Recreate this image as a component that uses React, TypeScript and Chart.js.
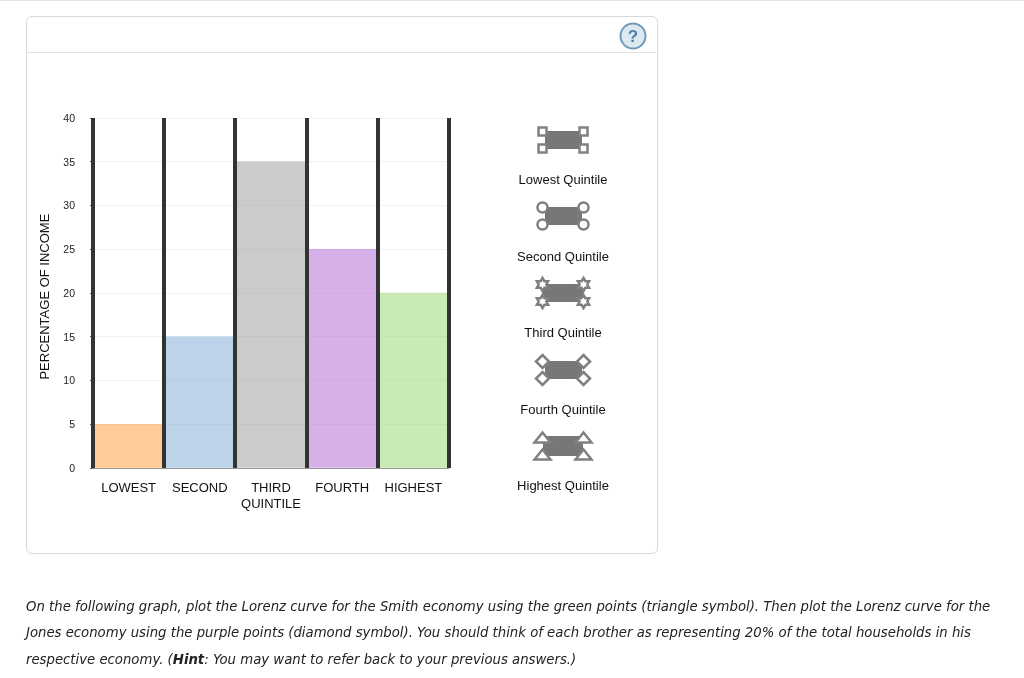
import React, { useEffect, useRef } from "react";
import { Chart, registerables } from "chart.js";

Chart.register(...registerables);

const categories = ["LOWEST", "SECOND", "THIRD", "FOURTH", "HIGHEST"];
const incomeShare = [5, 15, 35, 25, 20];
const barColors = [
  "rgba(255,153,51,0.5)",
  "rgba(122,167,211,0.5)",
  "rgba(151,151,151,0.5)",
  "rgba(173,99,211,0.5)",
  "rgba(147,213,107,0.5)",
];
const yMax = 40;
const yStep = 5;
const xTitle = "QUINTILE";
const yTitle = "PERCENTAGE OF INCOME";
const paletteLabels = ["Lowest Quintile", "Second Quintile", "Third Quintile", "Fourth Quintile", "Highest Quintile"];
const paletteShapes = ["square", "circle", "star", "diamond", "triangle"];

const SANS = '"Liberation Sans", Arial, sans-serif';
const GREY = "#808080";

function starPoints(cx: number, cy: number, R: number, r: number) {
  const pts: string[] = [];
  for (let i = 0; i < 12; i++) {
    const a = (Math.PI / 6) * i - Math.PI / 2;
    const rad = i % 2 === 0 ? R : r;
    pts.push(`${(cx + rad * Math.cos(a)).toFixed(2)},${(cy + rad * Math.sin(a)).toFixed(2)}`);
  }
  return pts.join(" ");
}

function Marker({ shape, x, y }: { shape: string; x: number; y: number }) {
  const common = { fill: "#fff", stroke: GREY, strokeWidth: 2.5 };
  if (shape === "square") return <rect x={x - 4} y={y - 4} width={8} height={8} {...common} />;
  if (shape === "circle") return <circle cx={x} cy={y} r={5} {...common} />;
  if (shape === "star") return <polygon points={starPoints(x, y, 6.5, 3.8)} {...common} />;
  if (shape === "diamond")
    return <polygon points={`${x},${y - 6.5} ${x + 6.5},${y} ${x},${y + 6.5} ${x - 6.5},${y}`} {...common} />;
  return <polygon points={`${x},${y - 5} ${x + 8},${y + 5} ${x - 8},${y + 5}`} {...common} />;
}

function Token({ shape, label, cy, labelTop }: { shape: string; label: string; cy: number; labelTop: number }) {
  const dy = 8.5;
  const dxMarker = 20.5;
  const wide = shape === "star" || shape === "triangle";
  const tall = shape === "triangle" ? 20 : 18;
  return (
    <>
      <svg
        style={{ position: "absolute", left: 523, top: cy - 24, width: 80, height: 48 }}
        viewBox={`523 ${cy - 24} 80 48`}
      >
        <rect
          x={wide ? 543 : 545}
          y={cy - tall / 2}
          width={wide ? 40 : 37}
          height={tall}
          fill="#777"
        />
        {[[-dxMarker, -dy], [dxMarker, -dy], [-dxMarker, dy], [dxMarker, dy]].map(([dx, d], i) => (
          <Marker key={"b" + i} shape={shape} x={563 + dx} y={cy + d} />
        ))}
      </svg>
      <div
        style={{
          position: "absolute",
          left: 483,
          width: 160,
          top: labelTop,
          height: 16,
          textAlign: "center",
          font: `13px/16px ${SANS}`,
          color: "#111",
        }}
      >
        {label}
      </div>
    </>
  );
}

export default function App() {
  const ref = useRef<HTMLCanvasElement>(null);
  useEffect(() => {
    const chart = new Chart(ref.current!, {
      type: "bar",
      data: {
        labels: categories,
        datasets: [
          {
            data: incomeShare,
            backgroundColor: barColors,
            barPercentage: 1,
            categoryPercentage: 1,
            borderWidth: 0,
          },
        ],
      },
      options: {
        responsive: false,
        animation: false,
        devicePixelRatio: 1,
        layout: { padding: { left: 38, right: 575, top: 118, bottom: 166 } },
        plugins: { legend: { display: false }, tooltip: { enabled: false } },
        scales: {
          x: {
            grid: { color: "#333", lineWidth: 4, z: 1, drawTicks: false, offset: true },
            border: { display: false },
            ticks: { color: "#111", font: { family: SANS, size: 13 }, padding: 13, maxRotation: 0, autoSkip: false },
            title: { display: true, text: xTitle, color: "#111", font: { family: SANS, size: 13 }, padding: { top: 2, bottom: 0 } },
            afterFit: (s: any) => { s.height = 44; },
          },
          y: {
            min: 0,
            max: yMax,
            grid: {
              color: (c: any) => (c.tick && c.tick.value === 0 ? "#999999" : "#f1f1f1"),
              lineWidth: 1,
              tickLength: 3,
              tickColor: "#666",
            },
            border: { display: false },
            ticks: { stepSize: yStep, color: "#222", font: { family: SANS, size: 10.5 }, padding: 15, labelOffset: 1 },
            title: { display: true, text: yTitle + "  ", color: "#111", font: { family: SANS, size: 13 }, padding: 0 },
            afterFit: (s: any) => { s.width = 55; },
          },
        },
      },
    });
    return () => chart.destroy();
  }, []);

  return (
    <div style={{ position: "absolute", left: 0, top: 0, width: 1024, height: 678, overflow: "hidden", background: "#fff" }}>
      <div style={{ position: "absolute", left: 0, top: 0, width: 1024, height: 1, background: "#e2e2e2" }} />
      <div
        style={{
          position: "absolute", left: 26, top: 16, width: 630, height: 536,
          border: "1px solid #d9d9d9", borderRadius: 6,
        }}
      />
      <div style={{ position: "absolute", left: 27, top: 52, width: 629, height: 1, background: "#e2e2e2" }} />
      <canvas ref={ref} width={1024} height={678} style={{ position: "absolute", left: 0, top: 0, width: 1024, height: 678 }} />
      <svg style={{ position: "absolute", left: 618, top: 21, width: 30, height: 30 }} viewBox="0 0 30 30">
        <circle cx={15} cy={15} r={12.5} fill="#dde9f1" stroke="#6f98bb" strokeWidth={2} />
        <text x={15} y={21} textAnchor="middle" fontFamily={SANS} fontWeight="bold" fontSize={17} fill="#4f81ab">?</text>
      </svg>
      {paletteLabels.map((label, i) => (
        <Token
          key={label}
          label={label}
          shape={paletteShapes[i]}
          cy={[140, 216, 293, 370, 446][i]}
          labelTop={[172, 249, 325, 402, 478][i]}
        />
      ))}
      <div
        style={{
          position: "absolute", left: 26, top: 594, width: 990,
          font: `italic 13.26px/26.4px "DejaVu Sans", sans-serif`, color: "#222", whiteSpace: "nowrap",
        }}
      >
        On the following graph, plot the Lorenz curve for the Smith economy using the green points (triangle symbol). Then plot the Lorenz curve for the
        <br />
        Jones economy using the purple points (diamond symbol). You should think of each brother as representing 20% of the total households in his
        <br />
        respective economy. (<b>Hint</b>: You may want to refer back to your previous answers.)
      </div>
    </div>
  );
}
